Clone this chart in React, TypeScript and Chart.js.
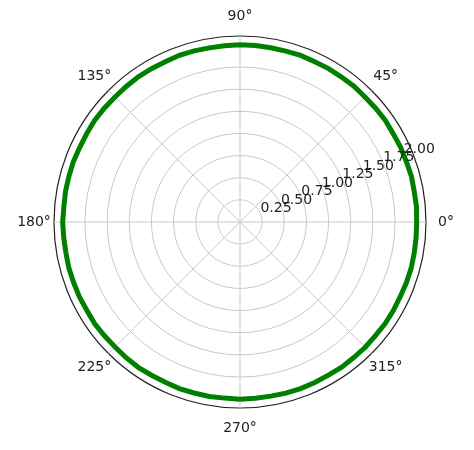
import Chart from "chart.js/auto";
import { useEffect, useRef } from "react";

// angles in degrees (counter-clockwise from east), radius at each angle
const angles = [
  0, 5, 10, 15, 20, 25, 30, 35, 40, 45, 50, 55, 60, 65, 70, 75, 80, 85,
  90, 95, 100, 105, 110, 115, 120, 125, 130, 135, 140, 145, 150, 155, 160, 165, 170, 175,
  180, 185, 190, 195, 200, 205, 210, 215, 220, 225, 230, 235, 240, 245, 250, 255, 260, 265,
  270, 275, 280, 285, 290, 295, 300, 305, 310, 315, 320, 325, 330, 335, 340, 345, 350, 355,
];
const radii = [
  1.995, 2.0, 1.997, 2.003, 1.998, 2.0, 1.996, 2.002, 1.999, 1.995, 2.001, 1.998, 2.0, 1.996, 2.002, 1.998, 1.997, 2.0,
  2.002, 1.998, 1.996, 2.0, 2.003, 1.997, 1.999, 2.002, 1.998, 1.995, 2.0, 2.002, 1.998, 1.996, 2.001, 1.999, 2.0, 1.996,
  2.002, 1.998, 1.996, 2.001, 1.999, 2.0, 1.996, 2.002, 1.998, 1.995, 2.0, 2.003, 1.998, 1.996, 2.002, 1.999, 2.0, 1.996,
  2.001, 1.998, 1.996, 2.0, 2.002, 1.999, 1.996, 2.002, 1.998, 2.0, 1.996, 2.001, 1.999, 1.996, 2.0, 2.002, 1.998, 1.996,
];
const thetaTicks = [0, 45, 90, 135, 180, 225, 270, 315];
const rTicks = [0.25, 0.5, 0.75, 1.0, 1.25, 1.5, 1.75, 2.0];
const rMax = 2.1;
const rLabelAngle = 22.5;

const FONT = "14px 'DejaVu Sans'";

export default function App() {
  const ref = useRef<HTMLCanvasElement>(null);

  useEffect(() => {
    if (!ref.current) return;

    // radar goes clockwise from startAngle, so reverse the counter-clockwise order
    const order = [0, ...angles.slice(1).map((_, i) => angles.length - 1 - i)];
    const labels = order.map((i) => angles[i]);
    const data = order.map((i) => radii[i]);

    const polarLabels = {
      id: "polarLabels",
      afterDraw(chart: any) {
        const scale = chart.scales.r;
        const ctx = chart.ctx;
        const cx = scale.xCenter;
        const cy = scale.yCenter;
        const R = scale.getDistanceFromCenterForValue(rMax);
        ctx.save();
        ctx.font = FONT;
        ctx.fillStyle = "#222";
        ctx.textAlign = "center";
        ctx.textBaseline = "middle";
        thetaTicks.forEach((a) => {
          const t = (a * Math.PI) / 180;
          ctx.fillText(`${a}°`, cx + (R + 20) * Math.cos(t), cy - (R + 20) * Math.sin(t));
        });
        ctx.textAlign = "left";
        ctx.textBaseline = "bottom";
        const t = (rLabelAngle * Math.PI) / 180;
        rTicks.forEach((v) => {
          const d = scale.getDistanceFromCenterForValue(v);
          ctx.fillText(v.toFixed(2), cx + d * Math.cos(t), cy - d * Math.sin(t) + 2);
        });
        ctx.restore();
      },
    };

    const chart = new Chart(ref.current, {
      type: "radar",
      data: {
        labels,
        datasets: [
          {
            data,
            borderColor: "#008000",
            borderWidth: 5,
            pointRadius: 0,
            fill: false,
            tension: 0,
          },
        ],
      },
      options: {
        animation: false,
        responsive: true,
        maintainAspectRatio: false,
        layout: { padding: { left: 53, right: 47, top: 36, bottom: 41 } },
        plugins: { legend: { display: false }, tooltip: { enabled: false } },
        scales: {
          r: {
            min: 0,
            max: rMax,
            startAngle: 90,
            afterBuildTicks: (scale: any) => {
              scale.ticks = [0, ...rTicks, rMax].map((v) => ({ value: v }));
            },
            ticks: { display: false },
            pointLabels: { display: false },
            grid: {
              circular: true,
              color: (c: any) => (c.tick && c.tick.value >= rMax ? "#222" : "#c8c8c8"),
              lineWidth: (c: any) => (c.tick && c.tick.value >= rMax ? 1.2 : 1),
            },
            angleLines: {
              color: "#c8c8c8",
              lineWidth: (c: any) => (labels[c.index] % 45 === 0 ? 1 : 0),
            },
          },
        },
      },
      plugins: [polarLabels],
    });

    return () => {
      chart.destroy();
    };
  }, []);

  return (
    <div style={{ position: "fixed", left: 0, top: 0, width: 474, height: 450, background: "#fff" }}>
      <canvas ref={ref}></canvas>
    </div>
  );
}
